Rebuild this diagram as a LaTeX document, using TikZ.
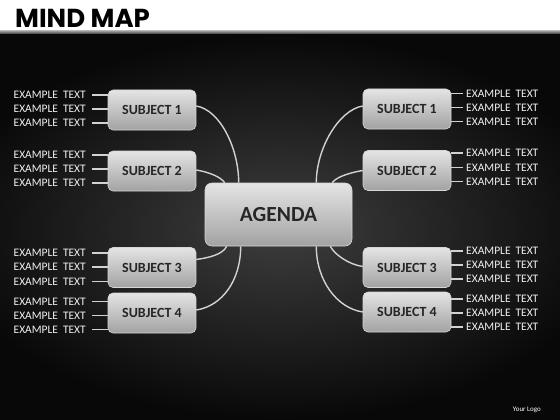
\documentclass[tikz,border=0pt]{standalone}
\usepackage{fontspec}
\setmainfont{Carlito}
\newfontfamily\titlefont{Poppins}
\usetikzlibrary{calc}
\definecolor{bgcenter}{HTML}{3E3E3E}
\definecolor{bgedge}{HTML}{080808}
\definecolor{boxtop}{HTML}{E4E4E4}
\definecolor{boxbot}{HTML}{A2A2A2}
\definecolor{boxline}{HTML}{D6D6D6}
\definecolor{linkcol}{HTML}{D2D2D2}
\definecolor{txtcol}{HTML}{F0F0F0}
\tikzset{
  subj/.style={draw=boxline, line width=0.6pt, rounded corners=5pt, top color=boxtop, bottom color=boxbot,
    minimum width=88pt, minimum height=40pt, inner sep=0pt, font=\fontsize{14}{16}\selectfont\bfseries, text=black!85},
  agendabox/.style={subj, minimum width=147pt, minimum height=63pt, rounded corners=7pt, font=\fontsize{21.5}{25}\selectfont\bfseries},
  ex/.style={inner sep=1pt, text=txtcol, font=\fontsize{11.5}{13}\selectfont},
  tick/.style={draw=linkcol, line width=1.6pt},
  link/.style={draw=linkcol, line width=1.4pt}
}
\newcommand{\extext}{EXAMPLE\hspace{0.2em} TEXT}
\begin{document}
\begin{tikzpicture}[x=1pt,y=-1pt]
\useasboundingbox (0,0) rectangle (560,420);
% background
\fill[white] (0,0) rectangle (560,32);
\shade[top color=black!40, bottom color=black!90] (0,31) rectangle (560,35);
\fill[bgedge] (0,35) rectangle (560,420);
\shade[inner color=bgcenter, outer color=bgedge] (-60,35) rectangle (620,420);
\node[anchor=base west, inner sep=0pt, font=\titlefont\bfseries\fontsize{26}{30}\selectfont] (title) at (15,27.5) {MIND MAP};
\node[anchor=base east, inner sep=0pt, text=white, font=\fontsize{7}{8}\selectfont] (logo) at (541,411) {Your Logo};
% center
\node[agendabox] (ag) at (278.5,214.5) {AGENDA\hspace{7pt}};
% subject boxes
\node[subj] (l1) at (152,110) {SUBJECT 1};
\node[subj] (l2) at (152,171) {SUBJECT 2};
\node[subj] (l3) at (152,267.5) {SUBJECT 3};
\node[subj] (l4) at (152,313) {SUBJECT 4};
\node[subj] (r1) at (407,109) {SUBJECT 1};
\node[subj] (r2) at (407,170.5) {SUBJECT 2};
\node[subj] (r3) at (407,267.5) {SUBJECT 3};
\node[subj] (r4) at (407,312) {SUBJECT 4};
% left texts
\foreach \b/\ya/\yb/\yc in {l1/95/109/123, l2/155/169/183, l3/253/267/281.5, l4/301.5/315.5/329.5}{
  \node[ex, anchor=east] (\b a) at (87,\ya) {\extext};
  \node[ex, anchor=east] (\b b) at (87,\yb) {\extext};
  \node[ex, anchor=east] (\b c) at (87,\yc) {\extext};
  \draw[tick] ([xshift=5pt]\b a.east) -- (\b a.east -| \b.west);
  \draw[tick] ([xshift=5pt]\b b.east) -- (\b b.east -| \b.west);
  \draw[tick] ([xshift=5pt]\b c.east) -- (\b c.east -| \b.west);
}
% right texts
\foreach \b/\ya/\yb/\yc in {r1/93.5/107.5/121.5, r2/153/167.5/181.5, r3/251/265/279, r4/299/313/327}{
  \node[ex, anchor=west] (\b a) at (465,\ya) {\extext};
  \node[ex, anchor=west] (\b b) at (465,\yb) {\extext};
  \node[ex, anchor=west] (\b c) at (465,\yc) {\extext};
  \draw[tick] ([xshift=-2pt]\b a.west) -- (\b a.west -| \b.east);
  \draw[tick] ([xshift=-2pt]\b b.west) -- (\b b.west -| \b.east);
  \draw[tick] ([xshift=-2pt]\b c.west) -- (\b c.west -| \b.east);
}
% links
\draw[link] ([yshift=4pt]l1.east) .. controls +(24,4) and +(0,-34) .. ($(ag.north west)+(34,0)$);
\draw[link] ([yshift=1pt]l2.east) .. controls +(12,2) and +(-4,-6) .. ($(ag.north west)+(20,0)$);
\draw[link] ([yshift=8pt]l3.east) .. controls +(14,-2) and +(-4,8) .. ($(ag.south west)+(22,0)$);
\draw[link] ([yshift=3pt]l4.east) .. controls +(26,-4) and +(0,34) .. ($(ag.south west)+(36,0)$);
\draw[link] ([yshift=3pt]r1.west) .. controls +(-24,4) and +(0,-34) .. ($(ag.north east)+(-36,0)$);
\draw[link] (r2.west) .. controls +(-12,2) and +(4,-6) .. ($(ag.north east)+(-20,0)$);
\draw[link] ([yshift=1pt]r3.west) .. controls +(-14,-2) and +(4,8) .. ($(ag.south east)+(-22,0)$);
\draw[link] (r4.west) .. controls +(-26,-4) and +(0,34) .. ($(ag.south east)+(-36,0)$);
\end{tikzpicture}
\end{document}
